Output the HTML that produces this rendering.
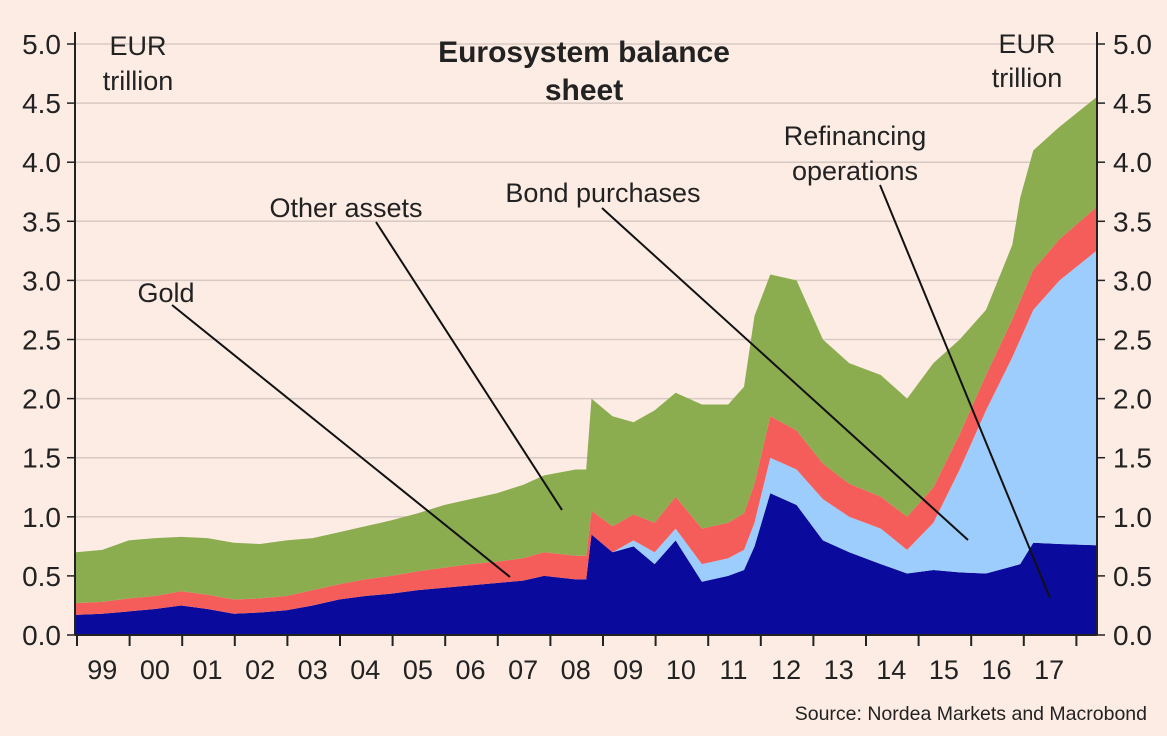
<!DOCTYPE html>
<html><head><meta charset="utf-8">
<style>
html,body{margin:0;padding:0;background:#fcece4;}
svg{display:block;font-family:"Liberation Sans","DejaVu Sans",sans-serif;}
</style></head>
<body>
<svg id="chart" width="1167" height="736" viewBox="0 0 1167 736">
<rect x="0" y="0" width="1167" height="736" fill="#fcece4"/>
<g id="grid"></g>
<g id="areas"></g>
<g id="axes"></g>
<g id="labels"></g>
</svg>
<script>
const times = [1999.0,1999.5,2000,2000.5,2001,2001.5,2002,2002.5,2003,2003.5,2004,2004.5,2005,2005.5,2006,2006.5,2007,2007.5,2007.9,2008.5,2008.7,2008.8,2009.2,2009.6,2010.0,2010.4,2010.9,2011.4,2011.7,2011.9,2012.2,2012.7,2013.2,2013.7,2014.3,2014.8,2015.3,2015.8,2016.3,2016.8,2016.95,2017.2,2017.7,2018.4];
const refinancing = [.17,.18,.2,.22,.25,.22,.18,.19,.21,.25,.3,.33,.35,.38,.4,.42,.44,.46,.5,.47,.47,.85,.7,.75,.6,.8,.45,.5,.55,.75,1.2,1.1,.8,.7,.6,.52,.55,.53,.52,.58,.6,.78,.77,.76];
const bondPurchases = [0,0,0,0,0,0,0,0,0,0,0,0,0,0,0,0,0,0,0,0,0,0,0,.05,.1,.1,.15,.15,.17,.2,.3,.3,.35,.3,.3,.2,.4,.87,1.38,1.77,1.9,1.97,2.23,2.49];
const gold = [.1,.1,.11,.11,.12,.12,.12,.12,.12,.13,.13,.14,.15,.16,.17,.18,.18,.19,.2,.2,.2,.2,.22,.22,.25,.27,.3,.3,.31,.33,.35,.33,.3,.28,.27,.28,.3,.3,.3,.32,.33,.34,.35,.37];
const otherAssets = [.43,.44,.49,.49,.46,.48,.48,.46,.47,.44,.44,.45,.47,.49,.53,.55,.58,.62,.65,.73,.73,.95,.93,.78,.95,.88,1.05,1.0,1.07,1.42,1.2,1.27,1.05,1.02,1.03,1.0,1.05,.8,.55,.63,.87,1.01,.95,.93];
const yTicks = [0,0.5,1,1.5,2,2.5,3,3.5,4,4.5,5];
const yearLabels = ["99","00","01","02","03","04","05","06","07","08","09","10","11","12","13","14","15","16","17"];

const NS="http://www.w3.org/2000/svg";
const X0=76, PXY=52.6, Y0=635, PXV=118.2, XL=75, XR=1097;
const xs = t => X0 + (t-1999)*PXY;
const ys = v => Y0 - v*PXV;
function mk(tag, attrs, parent){const e=document.createElementNS(NS,tag);for(const k in attrs)e.setAttribute(k,attrs[k]);parent.appendChild(e);return e;}
const grid=document.getElementById('grid'), areas=document.getElementById('areas'), axes=document.getElementById('axes'), labels=document.getElementById('labels');

yTicks.forEach(v=>{
  if(v>0){const g=mk('line',{x1:XL,x2:XR,y1:ys(v),y2:ys(v),stroke:'#d9c9c3','stroke-width':1.5},grid);
  
  }
  const l=mk('text',{x:61,y:ys(v)+10,'text-anchor':'end','font-size':28,fill:'#222'},axes);l.textContent=v.toFixed(1);
  
  
  const r=mk('text',{x:1113,y:ys(v)+10,'font-size':28,fill:'#222'},axes);r.textContent=v.toFixed(1);
  
  
  mk('line',{x1:XL-8,x2:XL,y1:ys(v),y2:ys(v),stroke:'#222','stroke-width':1.5},axes);
  mk('line',{x1:XR,x2:XR+8,y1:ys(v),y2:ys(v),stroke:'#222','stroke-width':1.5},axes);
});

const layers=[[refinancing,'#0a0a9c','refinancing-area'],[bondPurchases,'#9dcdfc','bond-purchases-area'],[gold,'#f55d5b','gold-area'],[otherAssets,'#8bad50','other-assets-area']];
let base=times.map(()=>0);
layers.forEach(([vals,col,name])=>{
  const top=base.map((b,i)=>b+vals[i]);
  let d='M'+times.map((t,i)=>xs(t).toFixed(1)+','+ys(top[i]).toFixed(1)).join(' L');
  for(let i=times.length-1;i>=0;i--) d+=' L'+xs(times[i]).toFixed(1)+','+ys(base[i]).toFixed(1);
  d+='Z';
  const p=mk('path',{d:d,fill:col},areas);
  
  
  base=top;
});

mk('line',{x1:XL,x2:XL,y1:32,y2:Y0,stroke:'#222','stroke-width':2},axes);
mk('line',{x1:XR,x2:XR,y1:32,y2:Y0,stroke:'#222','stroke-width':2},axes);
mk('line',{x1:XL,x2:XR,y1:Y0,y2:Y0,stroke:'#222','stroke-width':2},axes);
for(let i=0;i<=yearLabels.length;i++){
  mk('line',{x1:xs(1999+i)+1,x2:xs(1999+i)+1,y1:Y0,y2:Y0+11,stroke:'#222','stroke-width':2},axes);
}
yearLabels.forEach((lab,i)=>{
  const t=mk('text',{x:xs(1999+i+0.5),y:679,'text-anchor':'middle','font-size':27,fill:'#222'},axes);t.textContent=lab;
  
  
});
</script>
<svg style="position:absolute;left:0;top:0" width="1167" height="736">
<g font-family="Liberation Sans, DejaVu Sans, sans-serif" fill="#222">
<text x="138" y="55" font-size="27" text-anchor="middle">EUR</text>
<text x="138" y="90" font-size="27" text-anchor="middle">trillion</text>
<text x="1027" y="53" font-size="27" text-anchor="middle">EUR</text>
<text x="1027" y="87" font-size="27" text-anchor="middle">trillion</text>
<text x="584" y="62" font-size="30" font-weight="bold" text-anchor="middle">Eurosystem balance</text>
<text x="584" y="100" font-size="30" font-weight="bold" text-anchor="middle">sheet</text>
<text x="166" y="302" font-size="27" text-anchor="middle">Gold</text>
<text x="346" y="217" font-size="27" text-anchor="middle">Other assets</text>
<text x="603" y="202" font-size="27" text-anchor="middle">Bond purchases</text>
<text x="855" y="145" font-size="27" text-anchor="middle">Refinancing</text>
<text x="855" y="180" font-size="27" text-anchor="middle">operations</text>
<text x="1147" y="720" font-size="19.5" text-anchor="end">Source: Nordea Markets and Macrobond</text>
</g>
<g stroke="#111" stroke-width="2">
<line x1="172" y1="305" x2="510" y2="577"/>
<line x1="376" y1="222" x2="562" y2="510"/>
<line x1="602" y1="208" x2="968" y2="540"/>
<line x1="880" y1="185" x2="1050" y2="598"/>
</g>
</svg>
</body></html>
